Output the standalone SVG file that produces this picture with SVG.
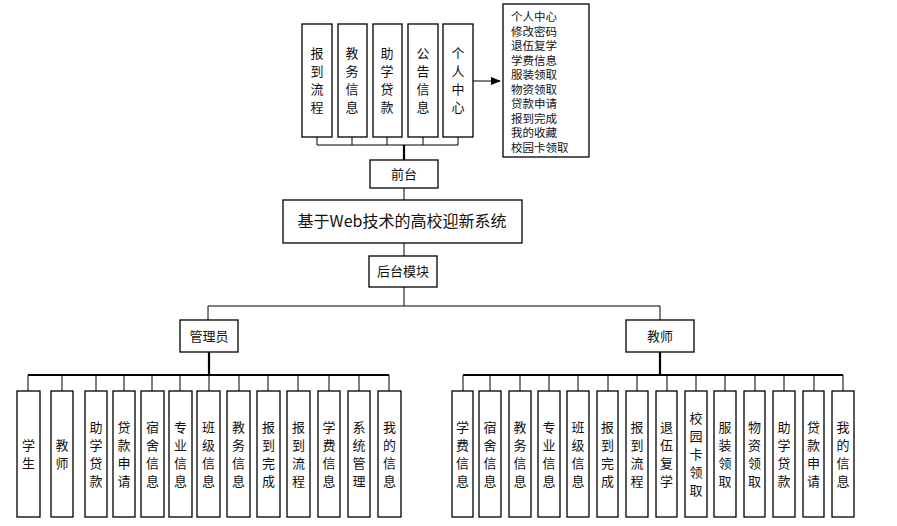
<svg xmlns="http://www.w3.org/2000/svg" width="897" height="526" viewBox="0 0 897 526">
<style>
.b{fill:#fff;stroke:#000;stroke-width:1.3}
.t{font-family:"Noto Sans CJK SC","Liberation Sans",sans-serif;font-size:13px;fill:#111;text-anchor:middle}
.s{font-family:"Noto Sans CJK SC","Liberation Sans",sans-serif;font-size:11.5px;fill:#111}
.l{stroke:#000;stroke-width:1;fill:none}
.k{stroke:#000;stroke-width:2.2;fill:none}
</style>
<defs><marker id="ar" markerWidth="10" markerHeight="8" refX="9" refY="4" orient="auto" markerUnits="userSpaceOnUse"><path d="M0,0L10,4L0,8z" fill="#000"/></marker></defs>
<rect width="897" height="526" fill="#fff"/>
<g id="connectors">
<path class="l" d="M317,137V145M352,137V145M387,137V145M423,137V145M458,137V145M317,145H458"/>
<path class="k" d="M404,145V160"/>
<path class="l" d="M404,188V200M404,243V256M404,287V306M208,306H660M208,306V320M660,306V320"/>
<path class="l" d="M473,81H500" marker-end="url(#ar)"/>
<path class="k" d="M209,352V375M660,352V375M28,375H389M463,375H843"/>
<path class="l" d="M28,375V391M62,375V391M96,375V391M124,375V391M152,375V391M180,375V391M209,375V391M239,375V391M268,375V391M298,375V391M329,375V391M359,375V391M389,375V391"/>
<path class="l" d="M463,375V391M490,375V391M520,375V391M549,375V391M578,375V391M608,375V391M637,375V391M667,375V391M696,375V391M725,375V391M755,375V391M784,375V391M814,375V391M843,375V391"/>
</g>
<g id="top1"><rect class="b" x="302" y="24" width="30" height="113"/><text class="t" x="317"><tspan x="317" y="58">报</tspan><tspan x="317" y="76">到</tspan><tspan x="317" y="94">流</tspan><tspan x="317" y="112">程</tspan></text></g>
<g id="top2"><rect class="b" x="338" y="24" width="29" height="113"/><text class="t"><tspan x="352" y="58">教</tspan><tspan x="352" y="76">务</tspan><tspan x="352" y="94">信</tspan><tspan x="352" y="112">息</tspan></text></g>
<g id="top3"><rect class="b" x="373" y="24" width="29" height="113"/><text class="t"><tspan x="387" y="58">助</tspan><tspan x="387" y="76">学</tspan><tspan x="387" y="94">贷</tspan><tspan x="387" y="112">款</tspan></text></g>
<g id="top4"><rect class="b" x="408" y="24" width="30" height="113"/><text class="t"><tspan x="423" y="58">公</tspan><tspan x="423" y="76">告</tspan><tspan x="423" y="94">信</tspan><tspan x="423" y="112">息</tspan></text></g>
<g id="top5"><rect class="b" x="443" y="24" width="30" height="113"/><text class="t"><tspan x="458" y="58">个</tspan><tspan x="458" y="76">人</tspan><tspan x="458" y="94">中</tspan><tspan x="458" y="112">心</tspan></text></g>
<g id="info"><rect class="b" x="503" y="4" width="86" height="153"/><text class="s"><tspan x="511" y="21">个人中心</tspan><tspan x="511" y="35.5">修改密码</tspan><tspan x="511" y="50">退伍复学</tspan><tspan x="511" y="64.5">学费信息</tspan><tspan x="511" y="79">服装领取</tspan><tspan x="511" y="93.5">物资领取</tspan><tspan x="511" y="108">贷款申请</tspan><tspan x="511" y="122.5">报到完成</tspan><tspan x="511" y="137">我的收藏</tspan><tspan x="511" y="151.5">校园卡领取</tspan></text></g>
<g id="qiantai"><rect class="b" x="370" y="160" width="68" height="28"/><text class="t" x="404" y="179">前台</text></g>
<g id="main"><rect class="b" x="283" y="200" width="239" height="43"/><text class="t" x="402" y="227" style="font-size:16px">基于Web技术的高校迎新系统</text></g>
<g id="houtai"><rect class="b" x="369" y="256" width="68" height="31"/><text class="t" x="403" y="276">后台模块</text></g>
<g id="admin"><rect class="b" x="180" y="320" width="58" height="32"/><text class="t" x="209" y="341">管理员</text></g>
<g id="teacher"><rect class="b" x="626" y="320" width="68" height="32"/><text class="t" x="660" y="341">教师</text></g>
<g id="a1"><rect class="b" x="17" y="391" width="23" height="126"/><text class="t"><tspan x="28.5" y="450">学</tspan><tspan x="28.5" y="468">生</tspan></text></g>
<g id="a2"><rect class="b" x="51" y="391" width="22" height="126"/><text class="t"><tspan x="62" y="450">教</tspan><tspan x="62" y="468">师</tspan></text></g>
<g id="a3"><rect class="b" x="85" y="391" width="22" height="126"/><text class="t"><tspan x="96" y="432">助</tspan><tspan x="96" y="450">学</tspan><tspan x="96" y="468">贷</tspan><tspan x="96" y="486">款</tspan></text></g>
<g id="a4"><rect class="b" x="113" y="391" width="22" height="126"/><text class="t"><tspan x="124" y="432">贷</tspan><tspan x="124" y="450">款</tspan><tspan x="124" y="468">申</tspan><tspan x="124" y="486">请</tspan></text></g>
<g id="a5"><rect class="b" x="141" y="391" width="23" height="126"/><text class="t"><tspan x="152.5" y="432">宿</tspan><tspan x="152.5" y="450">舍</tspan><tspan x="152.5" y="468">信</tspan><tspan x="152.5" y="486">息</tspan></text></g>
<g id="a6"><rect class="b" x="169" y="391" width="23" height="126"/><text class="t"><tspan x="180.5" y="432">专</tspan><tspan x="180.5" y="450">业</tspan><tspan x="180.5" y="468">信</tspan><tspan x="180.5" y="486">息</tspan></text></g>
<g id="a7"><rect class="b" x="197" y="391" width="23" height="126"/><text class="t"><tspan x="208.5" y="432">班</tspan><tspan x="208.5" y="450">级</tspan><tspan x="208.5" y="468">信</tspan><tspan x="208.5" y="486">息</tspan></text></g>
<g id="a8"><rect class="b" x="227" y="391" width="23" height="126"/><text class="t"><tspan x="238.5" y="432">教</tspan><tspan x="238.5" y="450">务</tspan><tspan x="238.5" y="468">信</tspan><tspan x="238.5" y="486">息</tspan></text></g>
<g id="a9"><rect class="b" x="257" y="391" width="23" height="126"/><text class="t"><tspan x="268.5" y="432">报</tspan><tspan x="268.5" y="450">到</tspan><tspan x="268.5" y="468">完</tspan><tspan x="268.5" y="486">成</tspan></text></g>
<g id="a10"><rect class="b" x="287" y="391" width="23" height="126"/><text class="t"><tspan x="298.5" y="432">报</tspan><tspan x="298.5" y="450">到</tspan><tspan x="298.5" y="468">流</tspan><tspan x="298.5" y="486">程</tspan></text></g>
<g id="a11"><rect class="b" x="318" y="391" width="22" height="126"/><text class="t"><tspan x="329" y="432">学</tspan><tspan x="329" y="450">费</tspan><tspan x="329" y="468">信</tspan><tspan x="329" y="486">息</tspan></text></g>
<g id="a12"><rect class="b" x="348" y="391" width="22" height="126"/><text class="t"><tspan x="359" y="432">系</tspan><tspan x="359" y="450">统</tspan><tspan x="359" y="468">管</tspan><tspan x="359" y="486">理</tspan></text></g>
<g id="a13"><rect class="b" x="378" y="391" width="23" height="126"/><text class="t"><tspan x="389.5" y="432">我</tspan><tspan x="389.5" y="450">的</tspan><tspan x="389.5" y="468">信</tspan><tspan x="389.5" y="486">息</tspan></text></g>
<g id="t1"><rect class="b" x="452" y="391" width="21" height="126"/><text class="t"><tspan x="462.5" y="432">学</tspan><tspan x="462.5" y="450">费</tspan><tspan x="462.5" y="468">信</tspan><tspan x="462.5" y="486">息</tspan></text></g>
<g id="t2"><rect class="b" x="479" y="391" width="22" height="126"/><text class="t"><tspan x="490" y="432">宿</tspan><tspan x="490" y="450">舍</tspan><tspan x="490" y="468">信</tspan><tspan x="490" y="486">息</tspan></text></g>
<g id="t3"><rect class="b" x="509" y="391" width="22" height="126"/><text class="t"><tspan x="520" y="432">教</tspan><tspan x="520" y="450">务</tspan><tspan x="520" y="468">信</tspan><tspan x="520" y="486">息</tspan></text></g>
<g id="t4"><rect class="b" x="538" y="391" width="22" height="126"/><text class="t"><tspan x="549" y="432">专</tspan><tspan x="549" y="450">业</tspan><tspan x="549" y="468">信</tspan><tspan x="549" y="486">息</tspan></text></g>
<g id="t5"><rect class="b" x="567" y="391" width="22" height="126"/><text class="t"><tspan x="578" y="432">班</tspan><tspan x="578" y="450">级</tspan><tspan x="578" y="468">信</tspan><tspan x="578" y="486">息</tspan></text></g>
<g id="t6"><rect class="b" x="597" y="391" width="21" height="126"/><text class="t"><tspan x="607.5" y="432">报</tspan><tspan x="607.5" y="450">到</tspan><tspan x="607.5" y="468">完</tspan><tspan x="607.5" y="486">成</tspan></text></g>
<g id="t7"><rect class="b" x="626" y="391" width="22" height="126"/><text class="t"><tspan x="637" y="432">报</tspan><tspan x="637" y="450">到</tspan><tspan x="637" y="468">流</tspan><tspan x="637" y="486">程</tspan></text></g>
<g id="t8"><rect class="b" x="656" y="391" width="21" height="126"/><text class="t"><tspan x="666.5" y="432">退</tspan><tspan x="666.5" y="450">伍</tspan><tspan x="666.5" y="468">复</tspan><tspan x="666.5" y="486">学</tspan></text></g>
<g id="t9"><rect class="b" x="685" y="391" width="22" height="126"/><text class="t"><tspan x="696" y="423">校</tspan><tspan x="696" y="441">园</tspan><tspan x="696" y="459">卡</tspan><tspan x="696" y="477">领</tspan><tspan x="696" y="495">取</tspan></text></g>
<g id="t10"><rect class="b" x="714" y="391" width="22" height="126"/><text class="t"><tspan x="725" y="432">服</tspan><tspan x="725" y="450">装</tspan><tspan x="725" y="468">领</tspan><tspan x="725" y="486">取</tspan></text></g>
<g id="t11"><rect class="b" x="744" y="391" width="21" height="126"/><text class="t"><tspan x="754.5" y="432">物</tspan><tspan x="754.5" y="450">资</tspan><tspan x="754.5" y="468">领</tspan><tspan x="754.5" y="486">取</tspan></text></g>
<g id="t12"><rect class="b" x="773" y="391" width="22" height="126"/><text class="t"><tspan x="784" y="432">助</tspan><tspan x="784" y="450">学</tspan><tspan x="784" y="468">贷</tspan><tspan x="784" y="486">款</tspan></text></g>
<g id="t13"><rect class="b" x="803" y="391" width="21" height="126"/><text class="t"><tspan x="813.5" y="432">贷</tspan><tspan x="813.5" y="450">款</tspan><tspan x="813.5" y="468">申</tspan><tspan x="813.5" y="486">请</tspan></text></g>
<g id="t14"><rect class="b" x="832" y="391" width="22" height="126"/><text class="t"><tspan x="843" y="432">我</tspan><tspan x="843" y="450">的</tspan><tspan x="843" y="468">信</tspan><tspan x="843" y="486">息</tspan></text></g>
</svg>
